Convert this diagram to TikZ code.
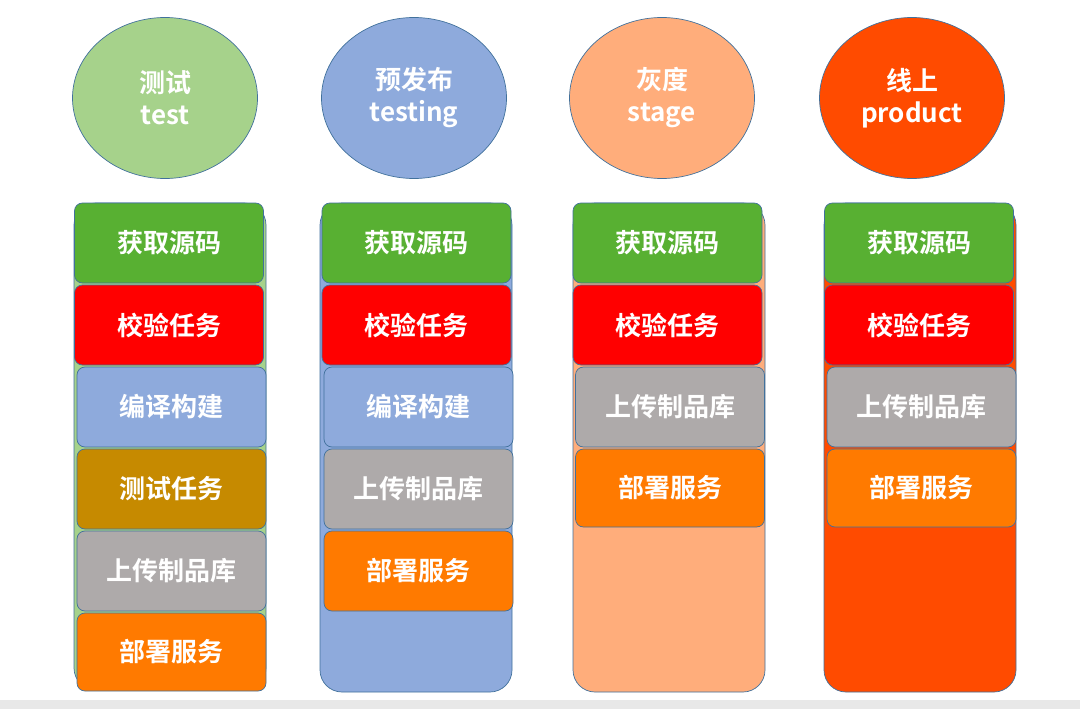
\documentclass[tikz,border=0pt]{standalone}
\usepackage{fontspec}
\newfontfamily\cjk{Noto Sans CJK SC Bold}
\definecolor{cgreen}{HTML}{58B032}
\definecolor{cred}{HTML}{FF0000}
\definecolor{cblue}{HTML}{8EAADC}
\definecolor{cgold}{HTML}{C68A00}
\definecolor{cgray}{HTML}{AEAAAA}
\definecolor{corange}{HTML}{FF7A00}
\definecolor{bgA}{HTML}{A6D28B}
\definecolor{bgB}{HTML}{8EAADC}
\definecolor{bgC}{HTML}{FFAD7B}
\definecolor{bgD}{HTML}{FF4B00}
\definecolor{edge}{HTML}{41719C}
\tikzset{
 box/.style={draw=edge,line width=0.7pt,rounded corners=8pt,minimum width=189pt,minimum height=80pt,inner sep=0pt,text=white,font=\cjk\fontsize{26}{28}\selectfont},
 col/.style={draw=edge,line width=0.7pt,rounded corners=22pt},
 ell/.style={draw=edge,line width=0.7pt,ellipse,minimum width=185pt,minimum height=161pt,inner sep=0pt,text=white,align=center,font=\cjk\fontsize{26}{32}\selectfont}
}
\usetikzlibrary{shapes.geometric}
\begin{document}
\begin{tikzpicture}[x=1pt,y=-1pt]
\useasboundingbox (0,0) rectangle (1080,709);
\fill[white] (0,0) rectangle (1080,709);
\fill[black!9] (0,700) rectangle (1080,709);
% backgrounds
\draw[col,fill=bgA] (74,203) rectangle (266,690);
\draw[col,fill=bgB] (320,203) rectangle (512,692);
\draw[col,fill=bgC] (573,203) rectangle (765,692);
\draw[col,fill=bgD] (824,203) rectangle (1016,692);
% ellipses
\node[ell,fill=bgA] (e1) at (165,98) {测试\\test};
\node[ell,fill=bgB] (e2) at (414,98) {预发布\\testing};
\node[ell,fill=bgC] (e3) at (662,98) {灰度\\stage};
\node[ell,fill=bgD] (e4) at (912,98) {线上\\product};
% column 1
\node[box,fill=cgreen] (a1) at (169,243) {获取源码};
\node[box,fill=cred] (a2) at (169,325) {校验任务};
\node[box,fill=cblue] (a3) at (171.5,407) {编译构建};
\node[box,fill=cgold] (a4) at (171.5,489) {测试任务};
\node[box,fill=cgray] (a5) at (171.5,571) {上传制品库};
\node[box,fill=corange,minimum height=78pt] (a6) at (171.5,652) {部署服务};
% column 2
\node[box,fill=cgreen] (b1) at (416.5,243) {获取源码};
\node[box,fill=cred] (b2) at (416.5,325) {校验任务};
\node[box,fill=cblue] (b3) at (418.5,407) {编译构建};
\node[box,fill=cgray] (b4) at (418.5,489) {上传制品库};
\node[box,fill=corange] (b5) at (418.5,571) {部署服务};
% column 3
\node[box,fill=cgreen] (c1) at (667.5,243) {获取源码};
\node[box,fill=cred] (c2) at (667.5,325) {校验任务};
\node[box,fill=cgray] (c3) at (670,407) {上传制品库};
\node[box,fill=corange,minimum height=78pt] (c4) at (670,488) {部署服务};
% column 4
\node[box,fill=cgreen] (d1) at (919,243) {获取源码};
\node[box,fill=cred] (d2) at (919,325) {校验任务};
\node[box,fill=cgray] (d3) at (921.5,407) {上传制品库};
\node[box,fill=corange,minimum height=78pt] (d4) at (921.5,488) {部署服务};
\end{tikzpicture}
\end{document}
